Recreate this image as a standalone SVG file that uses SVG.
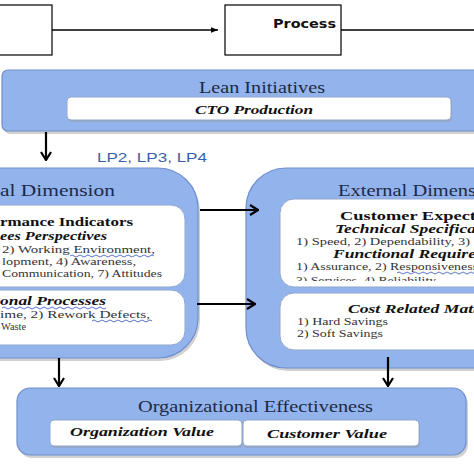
<svg xmlns="http://www.w3.org/2000/svg" width="474" height="474" viewBox="0 0 474 474">
<defs>
<style>
.blue{fill:#93b3ec;stroke:#6f8fcc;stroke-width:1.2}
.wht{fill:#ffffff;stroke:#8fa6cf;stroke-width:1}
.shd{fill:#9a9a9a;opacity:0.45}
.ttl{font-family:'Liberation Serif','DejaVu Serif',serif;font-size:17px;fill:#1d2a45}
.hd{font-family:'Liberation Serif','DejaVu Serif',serif;font-size:12.5px;font-weight:bold;fill:#111}
.hi{font-family:'Liberation Serif','DejaVu Serif',serif;font-size:12.5px;font-weight:bold;font-style:italic;fill:#111}
.sm{font-family:'Liberation Serif','DejaVu Serif',serif;font-size:9.5px;fill:#333}
.ln{stroke:#000;stroke-width:1.3;fill:none}
.thk{stroke:#000;stroke-width:2.2;fill:none}
.wav{stroke:#3050c0;stroke-width:0.8;fill:none}
</style>
<marker id="tri" viewBox="0 0 10 10" refX="10" refY="5" markerWidth="7" markerHeight="7" orient="auto" markerUnits="userSpaceOnUse">
<path d="M0,1 L10,5 L0,9 Z" fill="#000"/>
</marker>
<marker id="chev" viewBox="0 0 12 12" refX="11" refY="6" markerWidth="12" markerHeight="12" orient="auto" markerUnits="userSpaceOnUse">
<path d="M3,1 L11,6 L3,11" fill="none" stroke="#000" stroke-width="2.2"/>
</marker>
<clipPath id="clipR1"><rect x="280" y="199" width="220" height="82"/></clipPath>
</defs>
<rect width="474" height="474" fill="#ffffff"/>

<g id="input-box">
<rect x="-1" y="5" width="53" height="50" fill="#fff" stroke="#000" stroke-width="1.2"/>
</g>

<g id="process">
<rect x="225" y="5" width="116" height="50" fill="#fff" stroke="#000" stroke-width="1.2"/>
<text x="273" y="28" font-family="'DejaVu Sans', sans-serif" font-size="13" font-weight="bold" fill="#111" textLength="63" lengthAdjust="spacingAndGlyphs">Process</text>
</g>

<g id="lean-initiatives">
<rect class="shd" x="4" y="73" width="480" height="61" rx="6"/>
<rect class="blue" x="2" y="70" width="480" height="61" rx="6"/>
<text class="ttl" x="199" y="93" textLength="126" lengthAdjust="spacingAndGlyphs">Lean Initiatives</text>
<rect class="shd" x="68" y="99" width="384" height="23" rx="4"/>
<rect class="wht" x="67" y="97" width="384" height="23" rx="4"/>
<text class="hi" x="195" y="114" font-size="11.5" textLength="118" lengthAdjust="spacingAndGlyphs">CTO Production</text>
</g>

<g id="lp-label">
<text x="97" y="162" font-family="'Liberation Sans', Arial, sans-serif" font-size="13.5" fill="#3c5ea8" textLength="110" lengthAdjust="spacingAndGlyphs">LP2, LP3, LP4</text>
</g>

<g id="internal-dimension">
<rect class="shd" x="-40" y="171" width="240" height="190" rx="40"/>
<rect class="blue" x="-40" y="168" width="238" height="190" rx="40"/>
<text class="ttl" x="0" y="196" textLength="115" lengthAdjust="spacingAndGlyphs">al Dimension</text>
<rect class="wht" x="-20" y="205" width="205" height="82" rx="14"/>
<text class="hd" x="0" y="226" textLength="133" lengthAdjust="spacingAndGlyphs">rmance Indicators</text>
<text class="hi" x="0" y="240" textLength="107" lengthAdjust="spacingAndGlyphs">ees Perspectives</text>
<text class="sm" x="2" y="253" textLength="153" lengthAdjust="spacingAndGlyphs">2) Working Environment,</text>
<path class="wav" d="M70,256 q2,-2 4,0 t4,0 t4,0 t4,0 t4,0 t4,0 t4,0 t4,0 t4,0 t4,0 t4,0 t4,0 t4,0 t4,0 t4,0 t4,0 t4,0 t4,0 t4,0 t4,0 t4,0"/>
<text class="sm" x="2" y="265" textLength="134" lengthAdjust="spacingAndGlyphs">lopment, 4) Awareness,</text>
<text class="sm" x="2" y="277" textLength="160" lengthAdjust="spacingAndGlyphs">Communication, 7) Attitudes</text>
<rect class="wht" x="-20" y="290" width="205" height="55" rx="14"/>
<text class="hi" x="0" y="305" textLength="106" lengthAdjust="spacingAndGlyphs">onal Processes</text>
<path class="wav" d="M2,308 q2,-2 4,0 t4,0 t4,0 t4,0 t4,0 t4,0 t4,0 t4,0 t4,0 t4,0 t4,0 t4,0 t4,0 t4,0 t4,0 t4,0 t4,0 t4,0 t4,0 t4,0 t4,0 t4,0 t4,0 t4,0 t4,0 t4,0"/>
<text class="sm" x="0" y="318" textLength="150" lengthAdjust="spacingAndGlyphs">ime, 2) Rework Defects,</text>
<path class="wav" d="M92,321 q2,-2 4,0 t4,0 t4,0 t4,0 t4,0 t4,0 t4,0 t4,0 t4,0 t4,0 t4,0 t4,0 t4,0 t4,0 t4,0"/>
<text class="sm" x="1" y="330" textLength="25" lengthAdjust="spacingAndGlyphs">Waste</text>
</g>

<g id="external-dimension">
<rect class="shd" x="248" y="171" width="280" height="200" rx="40"/>
<rect class="blue" x="246" y="168" width="280" height="200" rx="40"/>
<text class="ttl" x="338" y="196" textLength="138" lengthAdjust="spacingAndGlyphs">External Dimens</text>
<rect class="wht" x="280" y="199" width="220" height="88" rx="14"/>
<text class="hd" x="340" y="220" textLength="136" lengthAdjust="spacingAndGlyphs">Customer Expect</text>
<text class="hi" x="335" y="233" textLength="141" lengthAdjust="spacingAndGlyphs">Technical Specifica</text>
<text class="sm" x="296" y="245" textLength="174" lengthAdjust="spacingAndGlyphs">1) Speed, 2) Dependability, 3)</text>
<text class="hi" x="333" y="258" textLength="143" lengthAdjust="spacingAndGlyphs">Functional Require</text>
<text class="sm" x="296" y="270" textLength="182" lengthAdjust="spacingAndGlyphs">1) Assurance, 2) Responsiveness</text>
<path class="wav" d="M397,273 q2,-2 4,0 t4,0 t4,0 t4,0 t4,0 t4,0 t4,0 t4,0 t4,0 t4,0 t4,0 t4,0 t4,0 t4,0 t4,0 t4,0 t4,0 t4,0 t4,0 t4,0"/>
<g clip-path="url(#clipR1)">
<text class="sm" x="296" y="284" textLength="140" lengthAdjust="spacingAndGlyphs">3) Services, 4) Reliability</text>
</g>
<rect class="wht" x="280" y="293" width="220" height="57" rx="14"/>
<text class="hi" x="348" y="313" textLength="130" lengthAdjust="spacingAndGlyphs">Cost Related Matt</text>
<text class="sm" x="297" y="325" textLength="91" lengthAdjust="spacingAndGlyphs">1) Hard Savings</text>
<text class="sm" x="297" y="337" textLength="86" lengthAdjust="spacingAndGlyphs">2) Soft Savings</text>
</g>

<g id="organizational-effectiveness">
<rect class="shd" x="19" y="391" width="449" height="67" rx="13"/>
<rect class="blue" x="17" y="388" width="449" height="67" rx="13"/>
<text class="ttl" x="138" y="412" textLength="235" lengthAdjust="spacingAndGlyphs">Organizational Effectiveness</text>
</g>
<g id="organization-value">
<rect class="shd" x="51" y="422" width="192" height="26" rx="4"/>
<rect class="wht" x="50" y="420" width="192" height="26" rx="4"/>
<text class="hi" x="70" y="436" font-size="11.5" textLength="144" lengthAdjust="spacingAndGlyphs">Organization Value</text>
</g>
<g id="customer-value">
<rect class="shd" x="244" y="422" width="176" height="26" rx="4"/>
<rect class="wht" x="243" y="420" width="176" height="26" rx="4"/>
<text class="hi" x="267" y="438" font-size="11.5" textLength="120" lengthAdjust="spacingAndGlyphs">Customer Value</text>
</g>

<g id="connectors">
<line class="ln" x1="52" y1="30" x2="218" y2="30" marker-end="url(#tri)"/>
<line class="ln" x1="341" y1="30" x2="474" y2="30"/>
<line class="thk" x1="46" y1="132" x2="46" y2="160" marker-end="url(#chev)"/>
<line class="thk" x1="200" y1="210" x2="258" y2="210" marker-end="url(#chev)"/>
<line class="thk" x1="197" y1="304" x2="255" y2="304" marker-end="url(#chev)"/>
<line class="thk" x1="59" y1="358" x2="59" y2="386" marker-end="url(#chev)"/>
<line class="thk" x1="388" y1="357" x2="388" y2="386" marker-end="url(#chev)"/>
</g>
</svg>
